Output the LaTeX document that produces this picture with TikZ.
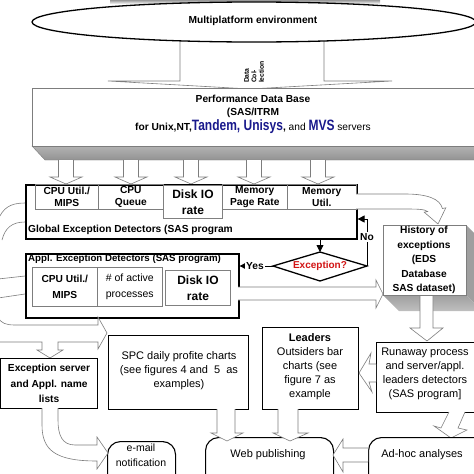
\documentclass[tikz,border=0pt]{standalone}
\usepackage{fontspec}
\setmainfont{Liberation Sans}
\newfontfamily\narrowfont[FakeStretch=0.80]{Liberation Sans}
\usetikzlibrary{shapes.geometric,arrows.meta,calc}
\definecolor{bluetxt}{RGB}{25,25,140}
\definecolor{redtxt}{RGB}{210,20,20}
\definecolor{ag}{RGB}{125,125,125}
\definecolor{facegray}{RGB}{150,150,150}
\tikzset{
 hollow/.style={draw=ag, fill=white, line width=0.6pt, line join=miter},
 hline/.style={draw=ag, line width=0.6pt},
 cell/.style={draw=ag, line width=0.6pt, inner sep=0pt, align=center},
 txt/.style={font=\fontsize{11}{14}\selectfont, align=center, inner sep=0pt},
 btxt/.style={font=\fontsize{10.2}{12}\selectfont\bfseries, align=center, inner sep=0pt},
 thickbox/.style={draw=black, line width=1.6pt, fill=white, inner sep=0pt},
 rbox/.style={draw=black, line width=1.1pt, fill=white, inner sep=0pt},
 stad/.style={draw=black, line width=1.1pt, fill=white, rounded corners=13pt, inner sep=0pt},
 blk/.style={-{Triangle[length=7pt,width=7pt]}, line width=0.8pt},
 bluebig/.style={},
}
\newcommand\bluebit[1]{{\narrowfont\bfseries\fontsize{15}{15}\selectfont\color{bluetxt}#1}}
\begin{document}
\begin{tikzpicture}[x=1pt,y=-1pt]
\useasboundingbox (0,0) rectangle (474,474);
\clip (0,0) rectangle (474,474);

% faint shading at the very top edge
\shade[top color=gray!80, bottom color=white] (110,0) rectangle (380,4);

% ---- data collection arrow
\draw[hollow] (180,30) -- (180,81) -- (108,81) -- (250,89) -- (392,81) -- (324,81) -- (324,30);
\node[ellipse, draw, line width=1.3pt, fill=white, minimum width=444pt, minimum height=40pt] (env) at (254,22) {};
\node[btxt] (envt) at (253,21) {Multiplatform environment};
\node[font=\fontsize{6.8}{7.5}\selectfont\bfseries, rotate=90, align=left, inner sep=0pt] (dcol) at (254,72) {Data\\Col-\\lection};

% ---- performance data base
\shade[top color=gray!60, bottom color=gray!85, draw=ag] (32,146) -- (490,146) -- (490,160) -- (45,160) -- cycle;
\node[draw=ag, fill=white, line width=0.6pt, anchor=north west, minimum width=460pt, minimum height=58pt, inner sep=0pt] (pdb) at (32,88) {};
\node[btxt] (pdbt1) at (253,99) {Performance Data Base};
\node[btxt] (pdbt2) at (253,113) {(SAS/ITRM};
\node[btxt, anchor=base] (pdbt3) at (253,130) {for Unix,NT,\bluebit{Tandem, Unisys}, {\mdseries and} \bluebit{MVS} {\mdseries servers}};

\foreach \xx in {66,131,191,254,318}{
 \draw[hollow] (\xx-7.5,160) -- (\xx-7.5,177) -- (\xx-16,177) -- (\xx,184) -- (\xx+16,177) -- (\xx+7.5,177) -- (\xx+7.5,160);
}

% ---- global exception detectors
\node[thickbox, anchor=north west, minimum width=331pt, minimum height=54pt] (glob) at (25,184) {};
\node[cell, btxt, anchor=north west, minimum width=63pt, minimum height=25pt] (g1) at (35,184) {CPU Util./\\MIPS};
\node[cell, btxt, anchor=north west, minimum width=65pt, minimum height=25pt] (g2) at (98,184) {CPU\\Queue};
\node[cell, draw=gray, line width=0.9pt, anchor=north west, minimum width=59pt, minimum height=33pt, font=\fontsize{12}{16}\selectfont\bfseries] (g3) at (163,185) {Disk IO\\rate};
\node[cell, btxt, anchor=north west, minimum width=65pt, minimum height=25pt] (g4) at (222,184) {Memory\\Page Rate};
\node[cell, btxt, anchor=north west, minimum width=69pt, minimum height=25pt] (g5) at (287,184) {Memory\\Util.};
\node[btxt, anchor=west] (globl) at (28,230) {Global Exception Detectors (SAS program};

% ---- appl exception detectors
\node[thickbox, anchor=north west, minimum width=213pt, minimum height=64pt] (appl) at (25,253) {};
\node[inner sep=0pt, anchor=west, font=\fontsize{9.7}{12}\selectfont\bfseries] (appll) at (28,259.5) {Appl. Exception Detectors (SAS program)};
\node[cell, anchor=north west, minimum width=65pt, minimum height=39pt, font=\fontsize{10.2}{16}\selectfont\bfseries] (a1) at (32,267) {CPU Util./\\MIPS};
\node[cell, anchor=north west, minimum width=65pt, minimum height=39pt, font=\fontsize{10.5}{16}\selectfont] (a2) at (97,267) {\# of active\\processes};
\node[cell, draw=gray, line width=0.9pt, anchor=north west, minimum width=65pt, minimum height=35pt, font=\fontsize{12}{16}\selectfont\bfseries] (a3) at (165,270) {Disk IO\\rate};

% ---- decision
\coordinate (excT) at (320,252);
\coordinate (excB) at (320,281);
\coordinate (excL) at (273,266);
\coordinate (excR) at (367,266);
\draw[line width=1.3pt, fill=white] (excT) -- (excR) -- (excB) -- (excL) -- cycle;
\node[font=\fontsize{10}{12}\selectfont\bfseries, text=redtxt, inner sep=0pt] (exc) at (320,266) {Exception?};
\draw[blk] (glob.south -| excT) -- (excT);
\coordinate (nocorner) at (367,219);
\draw[blk] (excR) -- (nocorner) -- (glob.east |- nocorner);
\node[btxt, fill=white, inner sep=1pt] (nolab) at (367,237) {No};
\draw[blk] (excL) -- (appl.east |- excL);
\node[btxt, fill=white, inner sep=1pt] (yeslab) at (255,266) {Yes};

% ---- history of exceptions
\fill[gray!75] (466,225) -- (482,241) -- (482,311) -- (466,295) -- cycle;
\shade[top color=gray!75, bottom color=gray!50] (383,295) -- (466,295) -- (482,311) -- (399,311) -- cycle;
\node[draw=ag, fill=white, line width=0.6pt, anchor=north west, minimum width=83pt, minimum height=70pt, inner sep=0pt] (hist) at (383,225) {};
\node[btxt, font=\fontsize{10.2}{14.5}\selectfont\bfseries] (histt) at (424,260) {History of\\exceptions\\(EDS\\Database\\SAS dataset)};

% glob -> history curved arrow
\draw[hollow] (356,194) -- (405,194) .. controls (428,194) and (440,199) .. (442.4,208.5) -- (445.8,207.8) -- (438,224) -- (424.2,212.2) -- (427.6,211.5) .. controls (424,209) and (418,209) .. (400,209) -- (356,209);
% appl -> history
\draw[hollow] (238,287) -- (376,287) -- (376,280) -- (383,294) -- (376,308) -- (376,300) -- (238,300);
% history -> runaway
\draw[hollow] (420,296) -- (420,328) -- (410,328) -- (427,341) -- (443,328) -- (433,328) -- (433,296);

% ---- left side wide arrows
\draw[hline] (25,203) .. controls (10,203) and (3,208) .. (-2,220);
\draw[hline] (25,222) .. controls (12,222) and (5,228) .. (2,240);
\draw[hline] (25,276) -- (-2,279);
\draw[hline] (25,294) -- (-2,298);
\draw[hollow] (-2,318) .. controls (2,323) and (5,325) .. (15,325) -- (98,325) -- (98,317) -- (107,333) -- (98,349) -- (98,342) -- (58,342) -- (58,350) -- (63,350) -- (50,358) -- (37,350) -- (42,350) -- (42,342) -- (-2,342);

% ---- exception server
\node[rbox, anchor=north west, minimum width=97pt, minimum height=50pt, font=\fontsize{10.2}{15.5}\selectfont\bfseries, align=center] (exs) at (0,358) {Exception server\\and Appl. name\\lists};

% ---- SPC
\node[rbox, anchor=north west, minimum width=140pt, minimum height=74pt] (spc) at (108,335) {};
\node[txt] (spct) at (179,371) {SPC daily profite charts\\(see figures 4 and~ 5~ as\\examples)};

% ---- leaders
\node[rbox, anchor=north west, minimum width=96pt, minimum height=82pt] (lead) at (262,327) {};
\node[txt] (leadt) at (310,367) {{\bfseries Leaders}\\Outsiders bar\\charts (see\\figure 7 as\\example};

% ---- runaway
\node[rbox, anchor=north west, minimum width=98pt, minimum height=70pt] (run) at (376,342) {};
\node[txt] (runt) at (425,374) {Runaway process\\and server/appl.\\leaders detectors\\(SAS program]};
% runaway -> leaders
\draw[hollow] (376,364) -- (369,364) -- (371,353) -- (359,373) -- (372,392) -- (369,382) -- (376,382);
% runaway -> ad-hoc
\draw[hollow] (449,412) -- (441,428) -- (434,426) -- (451,438) -- (467,430) -- (458,428) -- (465,412);

% ---- bottom row
\node[stad, anchor=north west, minimum width=68pt, minimum height=50pt] (mail) at (107,441) {};
\node[txt, font=\fontsize{10.5}{15}\selectfont] (mailt) at (141,455) {e-mail\\notification};
\draw[hollow] (42,408) -- (42,425) .. controls (42,450) and (55,461) .. (97,461) -- (97,469) -- (108,453) -- (97,437) -- (97,445) -- (75,445) .. controls (62,445) and (58,435) .. (58,420) -- (58,408);

\node[stad, anchor=north west, minimum width=128pt, minimum height=60pt] (web) at (205,437) {};
\node[txt] (webt) at (268,455) {Web publishing};
\node[stad, anchor=north west, minimum width=130pt, minimum height=60pt] (adhoc) at (368,437) {};
\node[txt] (adhoct) at (422,455) {Ad-hoc analyses};

\draw[hollow] (217,409) -- (217,433) -- (211,433) -- (227,441) -- (243,433) -- (235,433) -- (235,409);
\draw[hollow] (278,409) -- (278,433) -- (273,433) -- (290,441) -- (308,433) -- (298,433) -- (298,409);
\draw[hollow] (368,448) -- (343,448) -- (343,439) -- (333,455) -- (343,472) -- (343,462) -- (368,462);
\end{tikzpicture}
\end{document}
